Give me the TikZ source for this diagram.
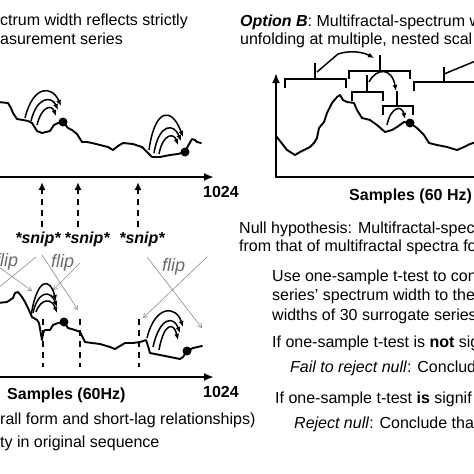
\documentclass[tikz,border=0pt]{standalone}
\usepackage{fontspec}
\setmainfont{Liberation Sans}
\usetikzlibrary{arrows.meta}
\begin{document}
\begin{tikzpicture}[x=1pt,y=-1pt,
    every node/.style={inner sep=0pt,font=\fontsize{16}{19}\selectfont},
    txt/.style={anchor=base west},
    series/.style={line width=1.9pt,line join=round,line cap=round},
    axis/.style={line width=2pt,-{Latex[length=10pt,width=8pt]}},
    hop/.style={line width=1.5pt,-{Latex[length=6pt,width=5pt]}},
    bracket/.style={line width=1.6pt},
    cutline/.style={line width=1.6pt,dash pattern=on 6pt off 5pt},
    snipcut/.style={cutline,-{Latex[length=8pt,width=7pt]}},
    snipbox/.style={anchor=base,outer sep=4pt,font=\fontsize{16}{19}\selectfont\bfseries\itshape},
    flipline/.style={black!45,line width=0.6pt,-{Straight Barb[length=4pt,width=5pt]}},
    fliptxt/.style={anchor=base west,text=black!58,font=\fontsize{18}{21}\selectfont\itshape},
    dot/.style={circle,fill=black,minimum size=9pt}]
\useasboundingbox (0,0) rectangle (474,474);
\clip (0,0) rectangle (474,474);

\node[txt] (headA1) at (0,25) {ctrum width reflects strictly};
\node[txt] (headA2) at (0,44) {asurement series};

\draw[series] (-2,102) -- (8,103) -- (11,108) -- (13,113) -- (17,119) -- (23,120) -- (28,121) -- (32,123) -- (37,131) -- (42,133) -- (46,132) -- (50,131) -- (54,125) -- (58,123) -- (63,122) -- (68,128) -- (72,130) -- (77,134) -- (82,142) -- (87,142) -- (92,143) -- (100,145) -- (108,147) -- (113,150) -- (118,146) -- (123,143) -- (133,144) -- (142,147) -- (147,152) -- (152,157) -- (160,157) -- (170,155) -- (178,154) -- (185,152) -- (188,146) -- (192,139) -- (195,140) -- (197,142) -- (201,143);
\node[dot] (origA) at (63,122) {};
\node[dot] (origB) at (185,152) {};
\draw[hop] (25,118) .. controls (33,85) and (52,85) .. (61,106);
\draw[hop] (31,121) .. controls (37,96) and (52,96) .. (58,110);
\draw[hop] (37,125) .. controls (42,105) and (52,105) .. (56,116);
\draw[hop] (149,150) .. controls (155,107) and (172,107) .. (183,137);
\draw[hop] (154,153) .. controls (159,123) and (174,123) .. (181,141);
\draw[hop] (159,154) .. controls (163,133) and (174,133) .. (178,145);

\coordinate (axAl) at (-2,177);
\coordinate (axAr) at (214,177);
\draw[axis] (axAl) -- (axAr);
\node[txt,font=\fontsize{16}{19}\selectfont\bfseries] (endA) at (203,197) {1024};

\node[snipbox] (snipA) at (38,243) {*snip*};
\node[snipbox] (snipB) at (87,243) {*snip*};
\node[snipbox] (snipC) at (142,243) {*snip*};
\coordinate (cutA) at (42,182);
\coordinate (cutB) at (78,182);
\coordinate (cutC) at (138,182);
\draw[snipcut] (cutA |- snipA.north) -- (cutA);
\draw[snipcut] (cutB |- snipB.north) -- (cutB);
\draw[snipcut] (cutC |- snipC.north) -- (cutC);

\node[fliptxt] (flipA) at (-5,266) {flip};
\node[fliptxt] (flipB) at (51,267) {flip};
\node[fliptxt] (flipC) at (162,271) {flip};
\draw[flipline] (36,257) -- (-8,293);
\draw[flipline] (-8,262) -- (32,291);
\draw[flipline] (42,255) -- (78,310);
\draw[flipline] (80,263) -- (53,290);
\draw[flipline] (147,257) -- (202,328);
\draw[flipline] (207,257) -- (143,318);

\draw[series] (-2,303) -- (7,302) -- (13,298) -- (15,293) -- (18,292) -- (22,297) -- (25,302) -- (28,308) -- (32,317) -- (37,320) -- (39,323) -- (42,340) -- (43,333) -- (45,330) -- (50,330) -- (53,325) -- (58,323) -- (64,322) -- (68,328) -- (75,330) -- (80,332) -- (82,336) -- (85,342) -- (92,343) -- (100,344) -- (110,347) -- (115,349) -- (120,346) -- (125,343) -- (133,343) -- (140,342) -- (146,340) -- (148,346) -- (150,353) -- (160,355) -- (170,357) -- (180,359) -- (183,357) -- (187,351) -- (193,348) -- (202,346);
\node[dot] (shufA) at (64,322) {};
\node[dot] (shufB) at (187,351) {};
\draw[hop] (31,316) .. controls (37,277) and (50,277) .. (56,301);
\draw[hop] (33,313) .. controls (38,290) and (51,290) .. (57,307);
\draw[hop] (36,312) .. controls (41,298) and (52,298) .. (57,313);
\draw[hop] (147,338) .. controls (155,305) and (176,305) .. (183,327);
\draw[hop] (153,347) .. controls (160,316) and (174,316) .. (180,333);
\draw[hop] (159,350) .. controls (164,322) and (174,322) .. (178,340);
\draw[cutline] (43,319) -- (43,367);
\draw[cutline] (80,319) -- (80,367);
\draw[cutline] (139,319) -- (139,367);

\coordinate (axBl) at (-2,377);
\coordinate (axBr) at (214,377);
\draw[axis] (axBl) -- (axBr);
\node[txt,font=\fontsize{16}{19}\selectfont\bfseries] (sampA) at (7,399) {Samples (60Hz)};
\node[txt,font=\fontsize{16}{19}\selectfont\bfseries] (endB) at (203,397) {1024};
\node[txt] (footA1) at (0,424) {rall form and short-lag relationships)};
\node[txt] (footA2) at (0,447) {ty in original sequence};

\node[txt] (headB1) at (240,26) {\textbf{\textit{Option B}}: Multifractal-spectrum w};
\node[txt] (headB2) at (240,44) {unfolding at multiple, nested scal};

\coordinate (orgB) at (276,177);
\coordinate (yTop) at (276,73);
\coordinate (xEnd) at (480,177);
\draw[line width=2pt,{Latex[length=10pt,width=8pt]}-] (yTop) -- (orgB) -- (xEnd);
\draw[series] (276,136) -- (280,141) -- (287,150) -- (295,155) -- (300,152) -- (304,150) -- (310,147) -- (314,143) -- (317,138) -- (319,128) -- (324,122) -- (327,113) -- (332,103) -- (337,97) -- (340,95) -- (343,100) -- (347,102) -- (354,103) -- (357,110) -- (362,118) -- (370,120) -- (377,125) -- (385,132) -- (392,130) -- (397,127) -- (404,122) -- (410,123) -- (417,128) -- (424,135) -- (429,143) -- (437,145) -- (447,147) -- (457,150) -- (464,147) -- (470,144) -- (476,142);
\node[dot] (nowB) at (410,123) {};

\draw[bracket] (285,88) -- (285,79) -- (346,79) -- (346,88);
\draw[bracket] (315,79) -- (315,63);
\draw[bracket] (349,79) -- (349,71) -- (410,71) -- (410,79);
\draw[bracket] (380,71) -- (380,55);
\draw[bracket] (414,91) -- (414,82) -- (480,82);
\draw[bracket] (444,82) -- (444,67);
\draw[bracket] (352,101) -- (352,92) -- (383,92) -- (383,101);
\draw[bracket] (367,92) -- (367,75);
\draw[bracket] (383,115) -- (383,106) -- (413,106) -- (413,115);
\draw[bracket] (397,106) -- (397,91);
\draw[hop] (317,72) -- (338,54) .. controls (350,50) and (363,52) .. (374,58);
\draw[line width=1.5pt] (444,74) -- (478,60);
\draw[hop] (369,82) .. controls (377,67) and (392,68) .. (396,91);
\draw[hop] (387,125) .. controls (391,106) and (402,105) .. (405,119);

\node[txt,font=\fontsize{16}{19}\selectfont\bfseries] (sampB) at (349,200) {Samples (60 Hz)};

\node[txt] (nullA) at (239,233) {Null hypothesis: Multifractal-spec};
\node[txt] (nullB) at (239,251) {from that of multifractal spectra fo};
\node[txt] (testA) at (272,281) {Use one-sample t-test to con};
\node[txt] (testB) at (272,300) {series' spectrum width to the};
\node[txt] (testC) at (272,320) {widths of 30 surrogate series};
\node[txt] (ifnot) at (272,347) {If one-sample t-test is \textbf{not} sig};
\node[txt] (failA) at (290,372) {\textit{Fail to reject null}: Conclud};
\node[txt] (ifis) at (275,403) {If one-sample t-test \textbf{is} signif};
\node[txt] (rejA) at (294,428) {\textit{Reject null}: Conclude tha};
\end{tikzpicture}
\end{document}
